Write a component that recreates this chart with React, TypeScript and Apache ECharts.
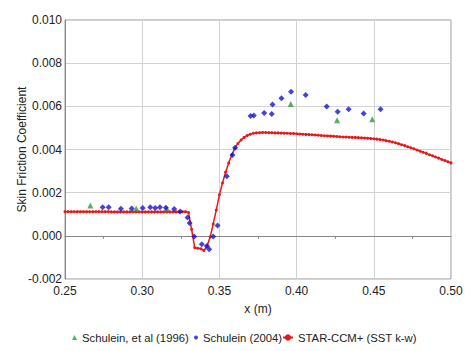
import React, { useEffect, useRef } from "react";
import * as echarts from "echarts";

// Schulein, et al (1996) – green triangles
const schulein1996: [number, number][] = [
  [0.2664, 0.0014], [0.2961, 0.00127], [0.316, 0.00127],
  [0.3962, 0.00611], [0.4262, 0.00536], [0.449, 0.0054],
];

// Schulein (2004) – blue diamonds
const schulein2004: [number, number][] = [
  [0.2744, 0.00133], [0.2783, 0.00133], [0.2862, 0.00126], [0.2932, 0.00127],
  [0.3003, 0.00129], [0.3052, 0.00133], [0.3084, 0.00129], [0.3115, 0.00132],
  [0.3153, 0.0013], [0.3207, 0.00124], [0.3246, 0.00113], [0.3294, 0.00085],
  [0.3307, 0.00059], [0.3337, -0.00003], [0.3386, -0.00039], [0.3419, -0.00047],
  [0.3434, -0.00062], [0.346, -0.00003], [0.3488, 0.00048], [0.3548, 0.00276],
  [0.3585, 0.00374], [0.3602, 0.00408], [0.3702, 0.00555], [0.3723, 0.00558],
  [0.379, 0.00569], [0.3839, 0.00564], [0.3844, 0.00609], [0.3902, 0.00637],
  [0.3964, 0.00667], [0.4059, 0.00653], [0.4195, 0.00599], [0.4266, 0.00575],
  [0.4337, 0.00586], [0.4434, 0.00567], [0.4544, 0.00586],
];

// STAR-CCM+ (SST k-w) – red line with dots
const starCcm: [number, number][] = [
  [0.250, 0.00112], [0.252, 0.00112], [0.254, 0.00112], [0.256, 0.00112], [0.258, 0.00112],
  [0.260, 0.00112], [0.262, 0.00112], [0.264, 0.00112], [0.266, 0.00112], [0.268, 0.00112],
  [0.270, 0.00112], [0.272, 0.00112], [0.274, 0.00112], [0.276, 0.00112], [0.278, 0.00112],
  [0.280, 0.00111], [0.282, 0.00111], [0.284, 0.00111], [0.286, 0.00111], [0.288, 0.00111],
  [0.290, 0.00111], [0.292, 0.00111], [0.294, 0.00111], [0.296, 0.00111], [0.298, 0.00111],
  [0.300, 0.00111], [0.302, 0.00111], [0.304, 0.00111], [0.306, 0.00111], [0.308, 0.00111],
  [0.310, 0.00111], [0.312, 0.00111], [0.314, 0.00111], [0.316, 0.00111], [0.318, 0.00111],
  [0.320, 0.00111], [0.322, 0.00111], [0.324, 0.00111], [0.326, 0.00112], [0.328, 0.00112],
  [0.330, 0.00108], [0.332, 0.0003], [0.334, -0.00055], [0.336, -0.00058], [0.338, -0.0006],
  [0.340, -0.00068], [0.342, -0.00048], [0.344, -0.00005], [0.346, 0.00055], [0.348, 0.0012],
  [0.350, 0.0019], [0.352, 0.00245], [0.354, 0.00295], [0.356, 0.00337], [0.358, 0.00375],
  [0.360, 0.00405], [0.362, 0.00428], [0.364, 0.00444], [0.366, 0.00456], [0.368, 0.00465],
  [0.370, 0.00471], [0.372, 0.00475], [0.374, 0.00477], [0.376, 0.00478], [0.378, 0.00479],
  [0.380, 0.00479], [0.382, 0.00478], [0.384, 0.00478], [0.386, 0.00477], [0.388, 0.00477],
  [0.390, 0.00476], [0.392, 0.00475], [0.394, 0.00475], [0.396, 0.00474], [0.398, 0.00474],
  [0.400, 0.00473], [0.402, 0.00472], [0.404, 0.00471], [0.406, 0.0047], [0.408, 0.00469],
  [0.410, 0.00468], [0.412, 0.00467], [0.414, 0.00466], [0.416, 0.00465], [0.418, 0.00464],
  [0.420, 0.00463], [0.422, 0.00462], [0.424, 0.00461], [0.426, 0.0046], [0.428, 0.00459],
  [0.430, 0.00458], [0.432, 0.00458], [0.434, 0.00457], [0.436, 0.00456], [0.438, 0.00456],
  [0.440, 0.00455], [0.442, 0.00454], [0.444, 0.00453], [0.446, 0.00452], [0.448, 0.00451],
  [0.450, 0.0045], [0.452, 0.00448], [0.454, 0.00446], [0.456, 0.00444], [0.458, 0.00441],
  [0.460, 0.00438], [0.462, 0.00435], [0.464, 0.00431], [0.466, 0.00427], [0.468, 0.00422],
  [0.470, 0.00418], [0.472, 0.00413], [0.474, 0.00408], [0.476, 0.00403], [0.478, 0.00398],
  [0.480, 0.00392], [0.482, 0.00387], [0.484, 0.00382], [0.486, 0.00376], [0.488, 0.00371],
  [0.490, 0.00365], [0.492, 0.0036], [0.494, 0.00354], [0.496, 0.00349], [0.498, 0.00343],
  [0.500, 0.00338],
];

const seriesNames = ["Schulein, et al (1996)", "Schulein (2004)", "STAR-CCM+ (SST k-w)"];
const xTitle = "x (m)";
const yTitle = "Skin Friction Coefficient";

const FONT = "'Liberation Sans', Arial, sans-serif";
const TXT = "#222";

export default function App() {
  const ref = useRef<HTMLDivElement>(null);
  useEffect(() => {
    if (!ref.current) return;
    const chart = echarts.init(ref.current, undefined, { renderer: "svg" });
    const legendBase = {
      top: 327,
      orient: "horizontal" as const,
      textStyle: { fontFamily: FONT, fontSize: 11.3, color: TXT },
      itemHeight: 5,
    };
    chart.setOption({
      animation: false,
      backgroundColor: "#fff",
      textStyle: { fontFamily: FONT },
      grid: {
        left: 65, right: 23, top: 20, bottom: 72,
        outerBoundsMode: "none",
        show: true, borderColor: "#999", borderWidth: 1,
      },
      legend: [
        { ...legendBase, left: 67, itemWidth: 5, data: [{ name: seriesNames[0], icon: "triangle" }] },
        { ...legendBase, left: 189, itemWidth: 4, data: [{ name: seriesNames[1], icon: "circle" }] },
        { ...legendBase, left: 277, itemWidth: 10, itemHeight: 8, data: [seriesNames[2]] },
      ],
      xAxis: {
        type: "value",
        min: 0.25, max: 0.5, interval: 0.05,
        name: xTitle, nameLocation: "middle", nameGap: 24, nameMoveOverlap: false,
        nameTextStyle: { fontFamily: FONT, fontSize: 12, color: TXT },
        axisLine: { show: true, lineStyle: { color: "#888", width: 1 } },
        axisTick: { show: false },
        minorTick: { show: true, splitNumber: 2, length: 3, lineStyle: { color: "#888" } },
        axisLabel: {
          fontFamily: FONT, fontSize: 12, color: TXT, margin: 6,
          formatter: (v: number) => v.toFixed(2),
        },
        splitLine: { show: true, lineStyle: { color: "#d2d2d2", width: 1 } },
      },
      yAxis: {
        type: "value",
        min: -0.002, max: 0.01, interval: 0.002,
        name: yTitle, nameLocation: "middle", nameGap: 37, nameMoveOverlap: false,
        nameTextStyle: { fontFamily: FONT, fontSize: 12, color: TXT },
        axisLine: { show: true, lineStyle: { color: "#888", width: 1 } },
        axisTick: { show: false },
        axisLabel: {
          fontFamily: FONT, fontSize: 12, color: TXT, margin: 3,
          formatter: (v: number) => v.toFixed(3),
        },
        splitLine: { show: true, lineStyle: { color: "#d2d2d2", width: 1 } },
      },
      series: [
        {
          name: seriesNames[0], type: "scatter", data: schulein1996,
          symbol: "triangle", symbolSize: 6, z: 4,
          itemStyle: { color: "#2f9a3a" },
        },
        {
          name: seriesNames[1], type: "scatter", data: schulein2004,
          symbol: "diamond", symbolSize: 6, z: 4,
          itemStyle: { color: "#1414d2" },
        },
        {
          name: seriesNames[2], type: "line", data: starCcm,
          symbol: "circle", symbolSize: 3, showAllSymbol: true, z: 3,
          lineStyle: { color: "#e81818", width: 1.5 },
          itemStyle: { color: "#e81818", borderWidth: 0 },
        },
      ],
    });
    return () => chart.dispose();
  }, []);
  return <div ref={ref} style={{ width: 474, height: 351, position: "absolute", left: 0, top: 0 }} />;
}
